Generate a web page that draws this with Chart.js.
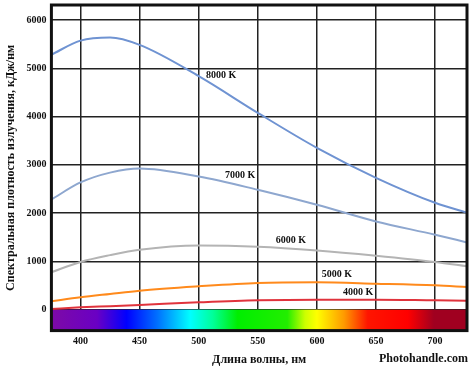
<!DOCTYPE html>
<html>
<head>
<meta charset="utf-8">
<script src="https://cdn.jsdelivr.net/npm/chart.js@4/dist/chart.umd.min.js"></script>
<style>
  body { margin: 0; background: #fff; }
</style>
</head>
<body>
<canvas id="myChart" width="474" height="369"></canvas>
<script>
// wavelength, nm
const wavelengths = [375, 400, 425, 450, 500, 550, 600, 650, 700, 727];
const t8000 = [5280, 5576, 5640, 5487, 4840, 4079, 3354, 2733, 2215, 2008];
const t7000 = [2277, 2636, 2840, 2925, 2760, 2484, 2174, 1828, 1553, 1393];
const t6000 = [772, 988, 1130, 1242, 1331, 1305, 1228, 1118, 988, 897];
const t5000 = [172, 255, 325, 393, 483, 552, 566, 538, 503, 470];
const t4000 = [14, 48, 72, 97, 151, 193, 207, 207, 193, 186];

const xTicks = [400, 450, 500, 550, 600, 650, 700];
const yTicks = [0, 1000, 2000, 3000, 4000, 5000, 6000];

const seriesNames = ["8000 K", "7000 K", "6000 K", "5000 K", "4000 K"];
const seriesColors = ["#6f93d2", "#8ea7cf", "#b4b4b4", "#ff8a1c", "#e0333c"];
// where each curve's label sits (nm, value)
const labelAt = [[519, 4860], [535, 2775], [578, 1430], [617, 725], [635, 350]];

// spectrum strip colour stops (nm)
const specNm = [375, 414, 439, 465, 493, 512, 533, 575, 590, 600, 623, 643, 677, 699, 727];
const specCol = ["#7d0aa6", "#6a00c4", "#0000ff", "#0070ff", "#00ffff", "#00ff99", "#00ee00",
  "#22ee00", "#ccff00", "#ffff00", "#ff9a00", "#ff1500", "#ff0000", "#a00020", "#a00020"];

const allSeries = [t8000, t7000, t6000, t5000, t4000];

const toPoints = (vals) => vals.map((v, i) => ({ x: wavelengths[i], y: v }));

const serif = "'Liberation Serif', 'DejaVu Serif', serif";

const decorations = {
  id: "decorations",
  beforeDatasetsDraw(chart) {
    const { ctx, chartArea, scales } = chart;
    const x = scales.x, y = scales.y;
    const y0 = y.getPixelForValue(0);
    const grad = ctx.createLinearGradient(chartArea.left, 0, chartArea.right, 0);
    specNm.forEach((nm, i) => {
      let p = (x.getPixelForValue(nm) - chartArea.left) / (chartArea.right - chartArea.left);
      grad.addColorStop(Math.min(1, Math.max(0, p)), specCol[i]);
    });
    ctx.save();
    ctx.fillStyle = grad;
    ctx.fillRect(chartArea.left, y0, chartArea.right - chartArea.left, chartArea.bottom - y0);
    ctx.restore();
  },
  afterDraw(chart) {
    const { ctx, chartArea, scales } = chart;
    ctx.save();
    ctx.strokeStyle = "#111";
    ctx.lineWidth = 3;
    ctx.strokeRect(chartArea.left, chartArea.top, chartArea.right - chartArea.left, chartArea.bottom - chartArea.top);

    ctx.fillStyle = "#111";
    ctx.font = "bold 10px " + serif;
    ctx.textAlign = "center";
    ctx.textBaseline = "middle";
    labelAt.forEach((p, i) => {
      ctx.fillText(seriesNames[i], scales.x.getPixelForValue(p[0]), scales.y.getPixelForValue(p[1]));
    });

    ctx.font = "bold 12px " + serif;
    ctx.textAlign = "right";
    ctx.fillText("Photohandle.com", chartArea.right + 1, 359);
    ctx.restore();
  },
};

const ctx = document.getElementById("myChart").getContext("2d");
const myChart = new Chart(ctx, {
  type: "line",
  data: {
    datasets: allSeries.map((vals, i) => ({
      label: seriesNames[i],
      data: toPoints(vals),
      borderColor: seriesColors[i],
      borderWidth: 2,
      pointRadius: 0,
      cubicInterpolationMode: "monotone",
      fill: false,
    })),
  },
  options: {
    responsive: false,
    devicePixelRatio: 1,
    animation: false,
    layout: { padding: { left: 4, right: 7, top: 5, bottom: 2 } },
    plugins: { legend: { display: false }, tooltip: { enabled: false } },
    scales: {
      x: {
        type: "linear",
        min: 375.4,
        max: 727,
        afterBuildTicks: (scale) => { scale.ticks = xTicks.map((v) => ({ value: v })); },
        border: { display: false },
        grid: { color: "#222", lineWidth: 1.5, drawTicks: false },
        ticks: {
          color: "#111",
          padding: 5,
          font: { family: serif, size: 10, weight: "bold" },
        },
        title: {
          display: true,
          text: "Длина волны, нм",
          color: "#111",
          padding: { top: 0, bottom: 0 },
          font: { family: serif, size: 12, weight: "bold" },
        },
      },
      y: {
        min: -435,
        max: 6315,
        afterBuildTicks: (scale) => { scale.ticks = yTicks.map((v) => ({ value: v })); },
        afterFit: (scale) => { scale.paddingTop = 0; },
        border: { display: false },
        grid: { color: "#222", lineWidth: 1.5, drawTicks: false },
        ticks: {
          color: "#111",
          padding: 5,
          callback: (v) => String(v),
          font: { family: serif, size: 10, weight: "bold" },
        },
        title: {
          display: true,
          text: "Спектральная плотность излучения, кДж/нм",
          color: "#111",
          padding: { top: 0, bottom: 3 },
          font: { family: serif, size: 12, weight: "bold" },
        },
      },
    },
  },
  plugins: [decorations],
});
</script>
</body>
</html>
